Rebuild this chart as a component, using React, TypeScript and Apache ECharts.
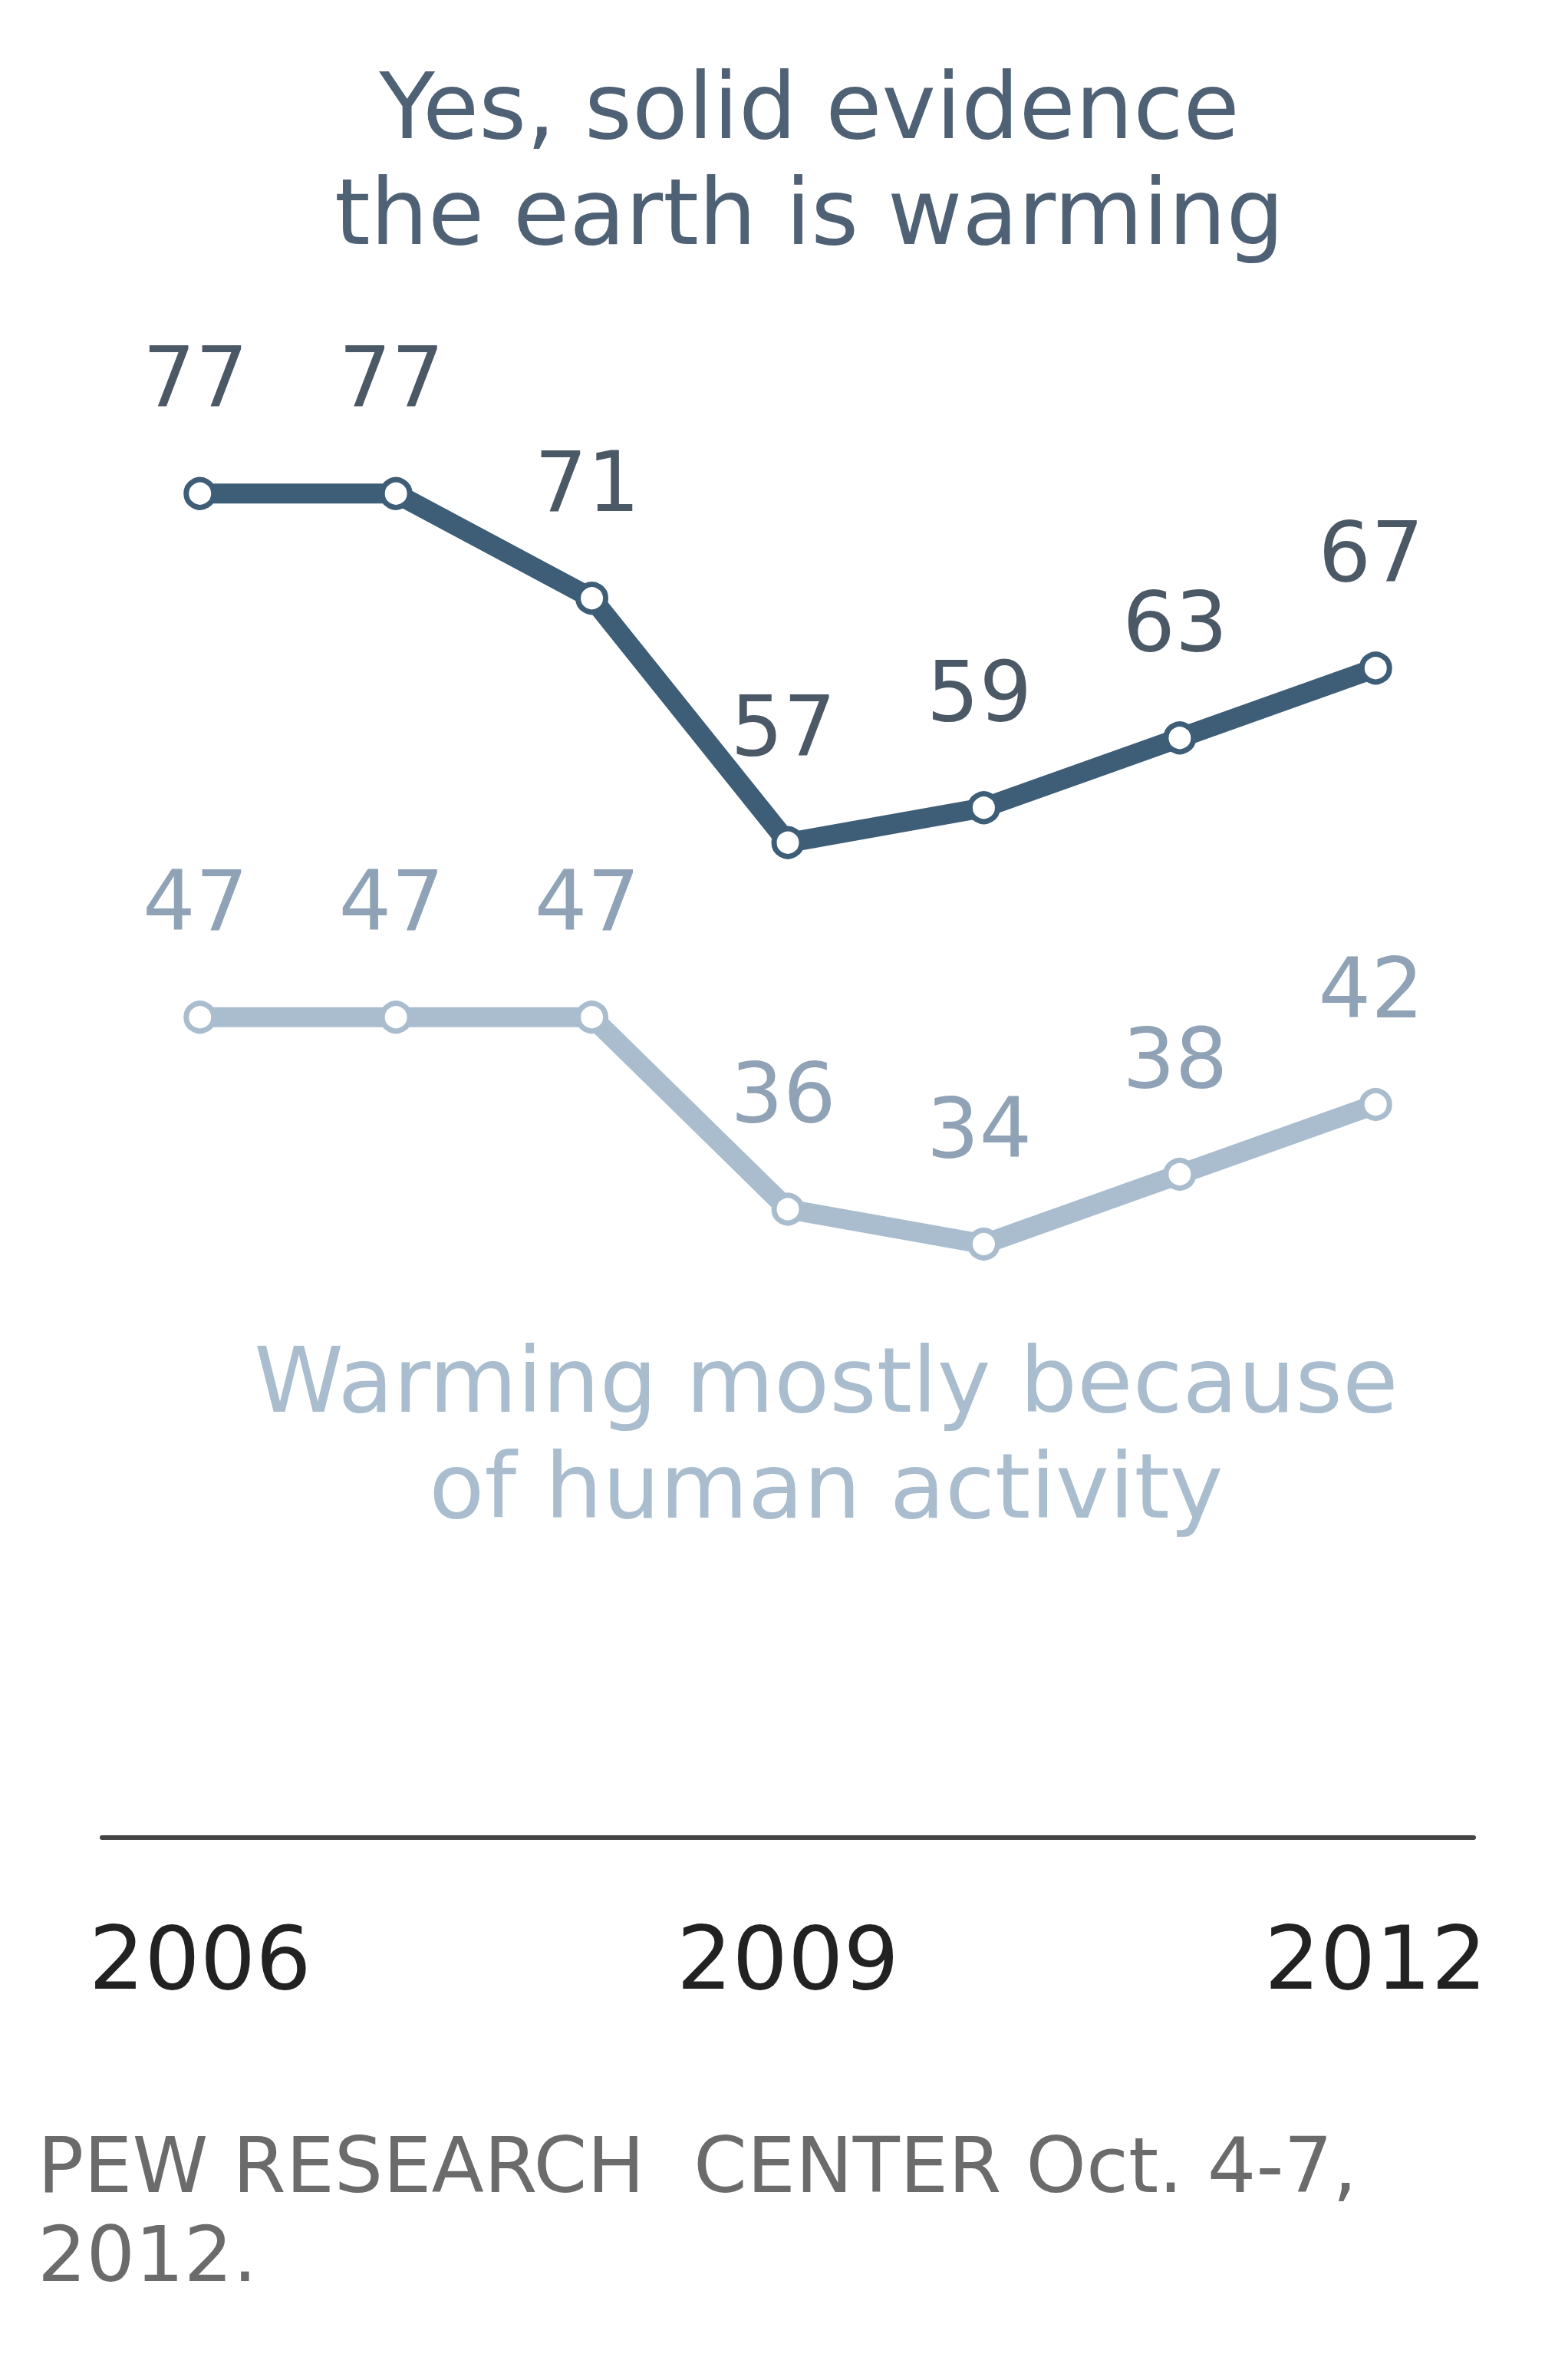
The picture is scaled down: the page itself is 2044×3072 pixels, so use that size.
import React, { useEffect, useRef } from "react";
import * as echarts from "echarts";

// Survey years and shares (%)
const years = ["2006", "2007", "2008", "2009", "2010", "2011", "2012"];
const solidEvidence = [77, 77, 71, 57, 59, 63, 67];
const humanActivity = [47, 47, 47, 36, 34, 38, 42];

const topCaption = "Yes, solid evidence\nthe earth is warming";
const lowerCaption = "Warming mostly because\nof human activity";
const sourceNote = "PEW RESEARCH  CENTER Oct. 4-7,\n2012.";

const FONT = "'DejaVu Sans', Verdana, sans-serif";
const DARK = "#3e5d77";
const LIGHT = "#a9bdce";

export default function App() {
  const ref = useRef<HTMLDivElement>(null);

  useEffect(() => {
    document.body.style.margin = "0";
    const chart = echarts.init(ref.current!, null, { renderer: "svg" });

    const lineSeries = (name: string, data: number[], color: string, labelColor: string) => ({
      name,
      type: "line",
      data,
      symbol: "circle",
      symbolSize: 36,
      itemStyle: { color: "#ffffff", borderColor: color, borderWidth: 7 },
      lineStyle: { color, width: 26, join: "miter" },
      label: {
        show: true,
        position: "top",
        distance: 76,
        offset: [-6, 0],
        fontFamily: FONT,
        fontSize: 108,
        color: labelColor,
      },
      emphasis: { disabled: true },
    });

    chart.setOption({
      animation: false,
      backgroundColor: "#ffffff",
      grid: { left: 133, right: 123, top: 120, bottom: 677 },
      xAxis: {
        type: "category",
        data: years,
        boundaryGap: true,
        axisLine: { show: true, lineStyle: { color: "#444444", width: 6 } },
        axisTick: { show: false },
        axisLabel: {
          interval: 2,
          margin: 100,
          fontFamily: FONT,
          fontSize: 114,
          color: "#222222",
        },
      },
      yAxis: { type: "value", min: 0, max: 100, show: false },
      series: [
        lineSeries("Solid evidence", solidEvidence, DARK, "#4b5866"),
        lineSeries("Human activity", humanActivity, LIGHT, "#8fa2b6"),
      ],
      graphic: [
        {
          type: "text",
          x: 1055,
          y: 70,
          style: {
            text: topCaption,
            fontFamily: FONT,
            fontSize: 119,
            lineHeight: 138,
            fill: "#4f6175",
            textAlign: "center",
          },
        },
        {
          type: "text",
          x: 1077,
          y: 1730,
          style: {
            text: lowerCaption,
            fontFamily: FONT,
            fontSize: 118,
            lineHeight: 138,
            fill: LIGHT,
            textAlign: "center",
          },
        },
        {
          type: "text",
          x: 49,
          y: 2764,
          style: {
            text: sourceNote,
            fontFamily: FONT,
            fontSize: 100,
            lineHeight: 116,
            fill: "#6b6b6b",
            textAlign: "left",
          },
        },
      ],
    });

    return () => chart.dispose();
  }, []);

  return <div ref={ref} style={{ width: 2044, height: 3072 }} />;
}
